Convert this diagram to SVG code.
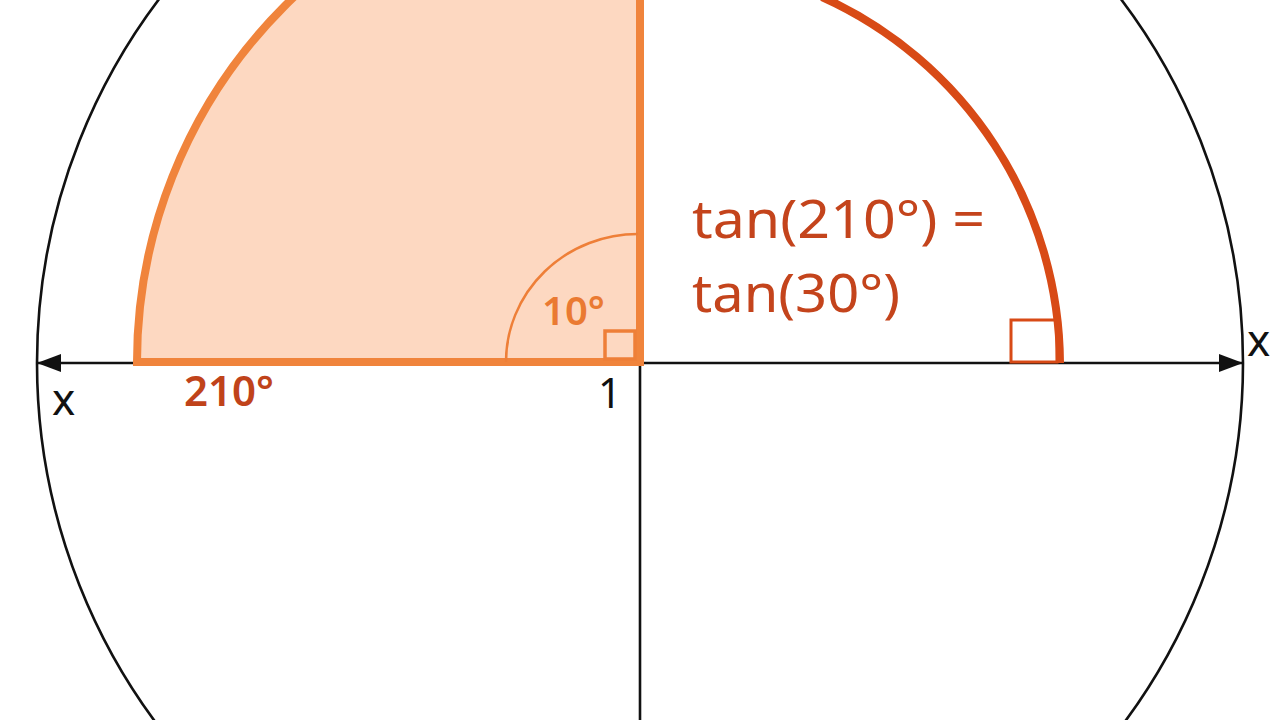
<svg xmlns="http://www.w3.org/2000/svg" width="1280" height="720" viewBox="0 0 1280 720">
<style>
.blk{fill:none;stroke:#111;stroke-width:2.6}
.lbl{font-family:"Noto Sans","Open Sans",sans-serif}
</style>
<defs>
<marker id="arr" viewBox="0 0 24 18" refX="24" refY="9" markerWidth="24" markerHeight="18" markerUnits="userSpaceOnUse" orient="auto-start-reverse">
<path d="M0 0 L24 9 L0 18 Z" fill="#111"/>
</marker>
</defs>
<rect width="1280" height="720" fill="#fff"/>
<g id="unit-circle">
<circle cx="640" cy="363" r="603" class="blk"/>
</g>
<g id="connectors">
<line x1="640" y1="363" x2="37" y2="363" class="blk" marker-end="url(#arr)"/>
<line x1="640" y1="363" x2="1243" y2="363" class="blk" marker-end="url(#arr)"/>
<line x1="640" y1="366" x2="640" y2="720" class="blk"/>
</g>
<g id="sector-210">
<path d="M640 362 L137 362 A503 503 0 0 1 640 -141 Z" fill="#fdd8c1" stroke="#f0843c" stroke-width="8" stroke-linejoin="miter"/>
<path d="M506 362 A132 128 0 0 1 638 234" fill="none" stroke="#ee7f38" stroke-width="2.5"/>
<rect x="605" y="331" width="30" height="28" fill="none" stroke="#ee7f38" stroke-width="3.5"/>
</g>
<g id="arc-30">
<path d="M822 -3 A404 404 0 0 1 1060 363" fill="none" stroke="#d84a16" stroke-width="8"/>
<rect x="1011" y="320" width="46" height="42" fill="none" stroke="#d84a16" stroke-width="3"/>
</g>
<g id="labels" class="lbl">
<text x="52" y="415" font-size="44" fill="#111">x</text>
<text x="1247" y="356" font-size="44" fill="#111">x</text>
<text x="598" y="408" font-size="41" fill="#111">1</text>
<text x="184" y="406" font-size="42" font-weight="600" fill="#c0431a">210°</text>
<text x="542" y="325" font-size="40" font-weight="600" fill="#ea7a32">10°</text>
<text x="692" y="238" font-size="52" fill="#c4441c" textLength="293" lengthAdjust="spacingAndGlyphs">tan(210°) =</text>
<text x="692" y="312" font-size="52" fill="#c4441c" textLength="208" lengthAdjust="spacingAndGlyphs">tan(30°)</text>
</g>
</svg>
